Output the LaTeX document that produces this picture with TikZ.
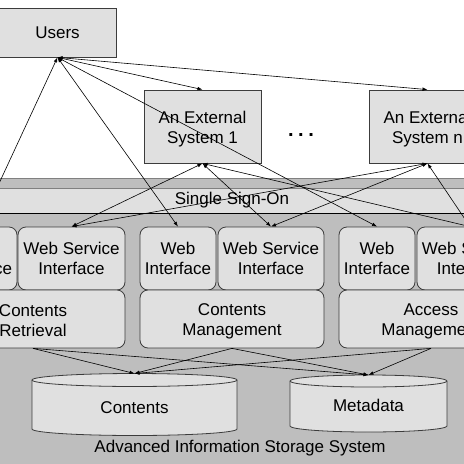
\documentclass[tikz,border=0pt]{standalone}
\usepackage{fontspec}
\setmainfont{Liberation Sans}
\usetikzlibrary{arrows.meta}
\definecolor{lightg}{RGB}{224,224,224}
\definecolor{contg}{RGB}{190,190,190}
\definecolor{boxline}{RGB}{60,60,60}
\definecolor{edgeg}{RGB}{128,128,128}
\begin{document}
\begin{tikzpicture}[x=1pt,y=-1pt,
  every node/.style={font=\fontsize{17}{20}\selectfont},
  box/.style={draw=boxline, fill=lightg, line width=0.8pt, align=center, inner sep=0pt},
  rbox/.style={box, rounded corners=8pt},
  subbox/.style={rbox, minimum height=63pt},
  mainbox/.style={rbox, minimum width=184pt, minimum height=58pt},
  link/.style={draw=black, line width=0.6pt, {Latex[length=5pt,width=3.6pt]}-{Latex[length=5pt,width=3.6pt]}},
  store/.style={draw=black, line width=0.6pt, -{Latex[length=5pt,width=3.6pt]}},
  cyl/.style={draw=boxline, fill=lightg, line width=0.8pt}]
\useasboundingbox (0,0) rectangle (464,464);
\clip (0,0) rectangle (464,464);
\fill[white] (0,0) rectangle (464,464);

% container
\node[draw=edgeg, fill=contg, line width=0.8pt, minimum width=484pt, minimum height=300pt, inner sep=0pt] (aiss) at (232,328) {};
\node (aisslabel) at (240,448) {Advanced Information Storage System};

% single sign-on
\node[draw=edgeg, fill=lightg, line width=0.8pt, minimum width=484pt, minimum height=25pt, inner sep=0pt] (sso) at (232,200.5) {Single Sign-On};
\draw[black, line width=0.8pt] (sso.south west) -- (sso.south east);

% top boxes
\node[box, minimum width=117pt, minimum height=49pt] (users) at (57.5,32.5) {Users};
\node[box, minimum width=117pt, minimum height=73pt] (es1) at (202.5,126.5) {};
\node[align=center, inner sep=0pt] (es1text) at (202.5,129) {An External\\System 1};
\node[box, minimum width=117pt, minimum height=73pt] (esn) at (427.5,126.5) {};
\node[align=center, inner sep=0pt] (esntext) at (427.5,129) {An External\\System n};
\node[font=\fontsize{20}{20}\selectfont\bfseries] (dots) at (301,135) {.\hspace{4.5pt}.\hspace{4.5pt}.};

% service boxes
\node[subbox, minimum width=76pt] (crweb) at (-21,258.5) {Web\\Interface};
\node[subbox, minimum width=107pt] (crws) at (71.5,258.5) {Web Service\\Interface};
\node[subbox, minimum width=76pt] (cmweb) at (178,258.5) {Web\\Interface};
\node[subbox, minimum width=106pt] (cmws) at (271,258.5) {Web Service\\Interface};
\node[subbox, minimum width=76pt] (amweb) at (377,258.5) {Web\\Interface};
\node[subbox, minimum width=106pt] (amws) at (470,258.5) {Web Service\\Interface};
\node[mainbox] (cr) at (33,319) {};
\node[align=center, inner sep=0pt] (crtext) at (33,321) {Contents\\Retrieval};
\node[mainbox] (cm) at (232,319) {};
\node[align=center, inner sep=0pt] (cmtext) at (232,321) {Contents\\Management};
\node[mainbox] (am) at (431,319) {};
\node[align=center, inner sep=0pt] (amtext) at (431,321) {Access\\Management};

% cylinders
\draw[cyl] (32,380) -- (32,429) arc[start angle=180, end angle=360, x radius=102.5pt, y radius=6.5pt]
  -- (237,380) arc[start angle=0, end angle=180, x radius=102.5pt, y radius=6.5pt] -- cycle;
\draw[cyl, fill=none] (32,380) arc[start angle=180, end angle=360, x radius=102.5pt, y radius=6.5pt];
\node (contents) at (134.5,408) {Contents};
\coordinate (contentstop) at (134.5,373.5);

\draw[cyl] (290,381) -- (290,426) arc[start angle=180, end angle=360, x radius=78.5pt, y radius=6pt]
  -- (447,381) arc[start angle=0, end angle=180, x radius=78.5pt, y radius=6pt] -- cycle;
\draw[cyl, fill=none] (290,381) arc[start angle=180, end angle=360, x radius=78.5pt, y radius=6pt];
\node (metadata) at (368.5,405) {Metadata};
\coordinate (metatop) at (368.5,375);

% user links
\draw[link] (users.south) -- (es1.north);
\draw[link] (users.south) -- (esn.north);
\draw[link] (users.south) -- (crweb.north);
\draw[link] (users.south) -- (cmweb.north);
\draw[link] (users.south) -- (amweb.north);
% external system links
\draw[link] (es1.south) -- (crws.north);
\draw[link] (es1.south) -- (cmws.north);
\draw[link] (es1.south) -- (amws.north);
\draw[link] (esn.south) -- (crws.north);
\draw[link] (esn.south) -- (cmws.north);
\draw[link] (esn.south) -- (amws.north);
% storage links
\foreach \s in {cr,cm,am} {
  \draw[store] (\s.south) -- (contentstop);
  \draw[store] (\s.south) -- (metatop);
}
\end{tikzpicture}
\end{document}
